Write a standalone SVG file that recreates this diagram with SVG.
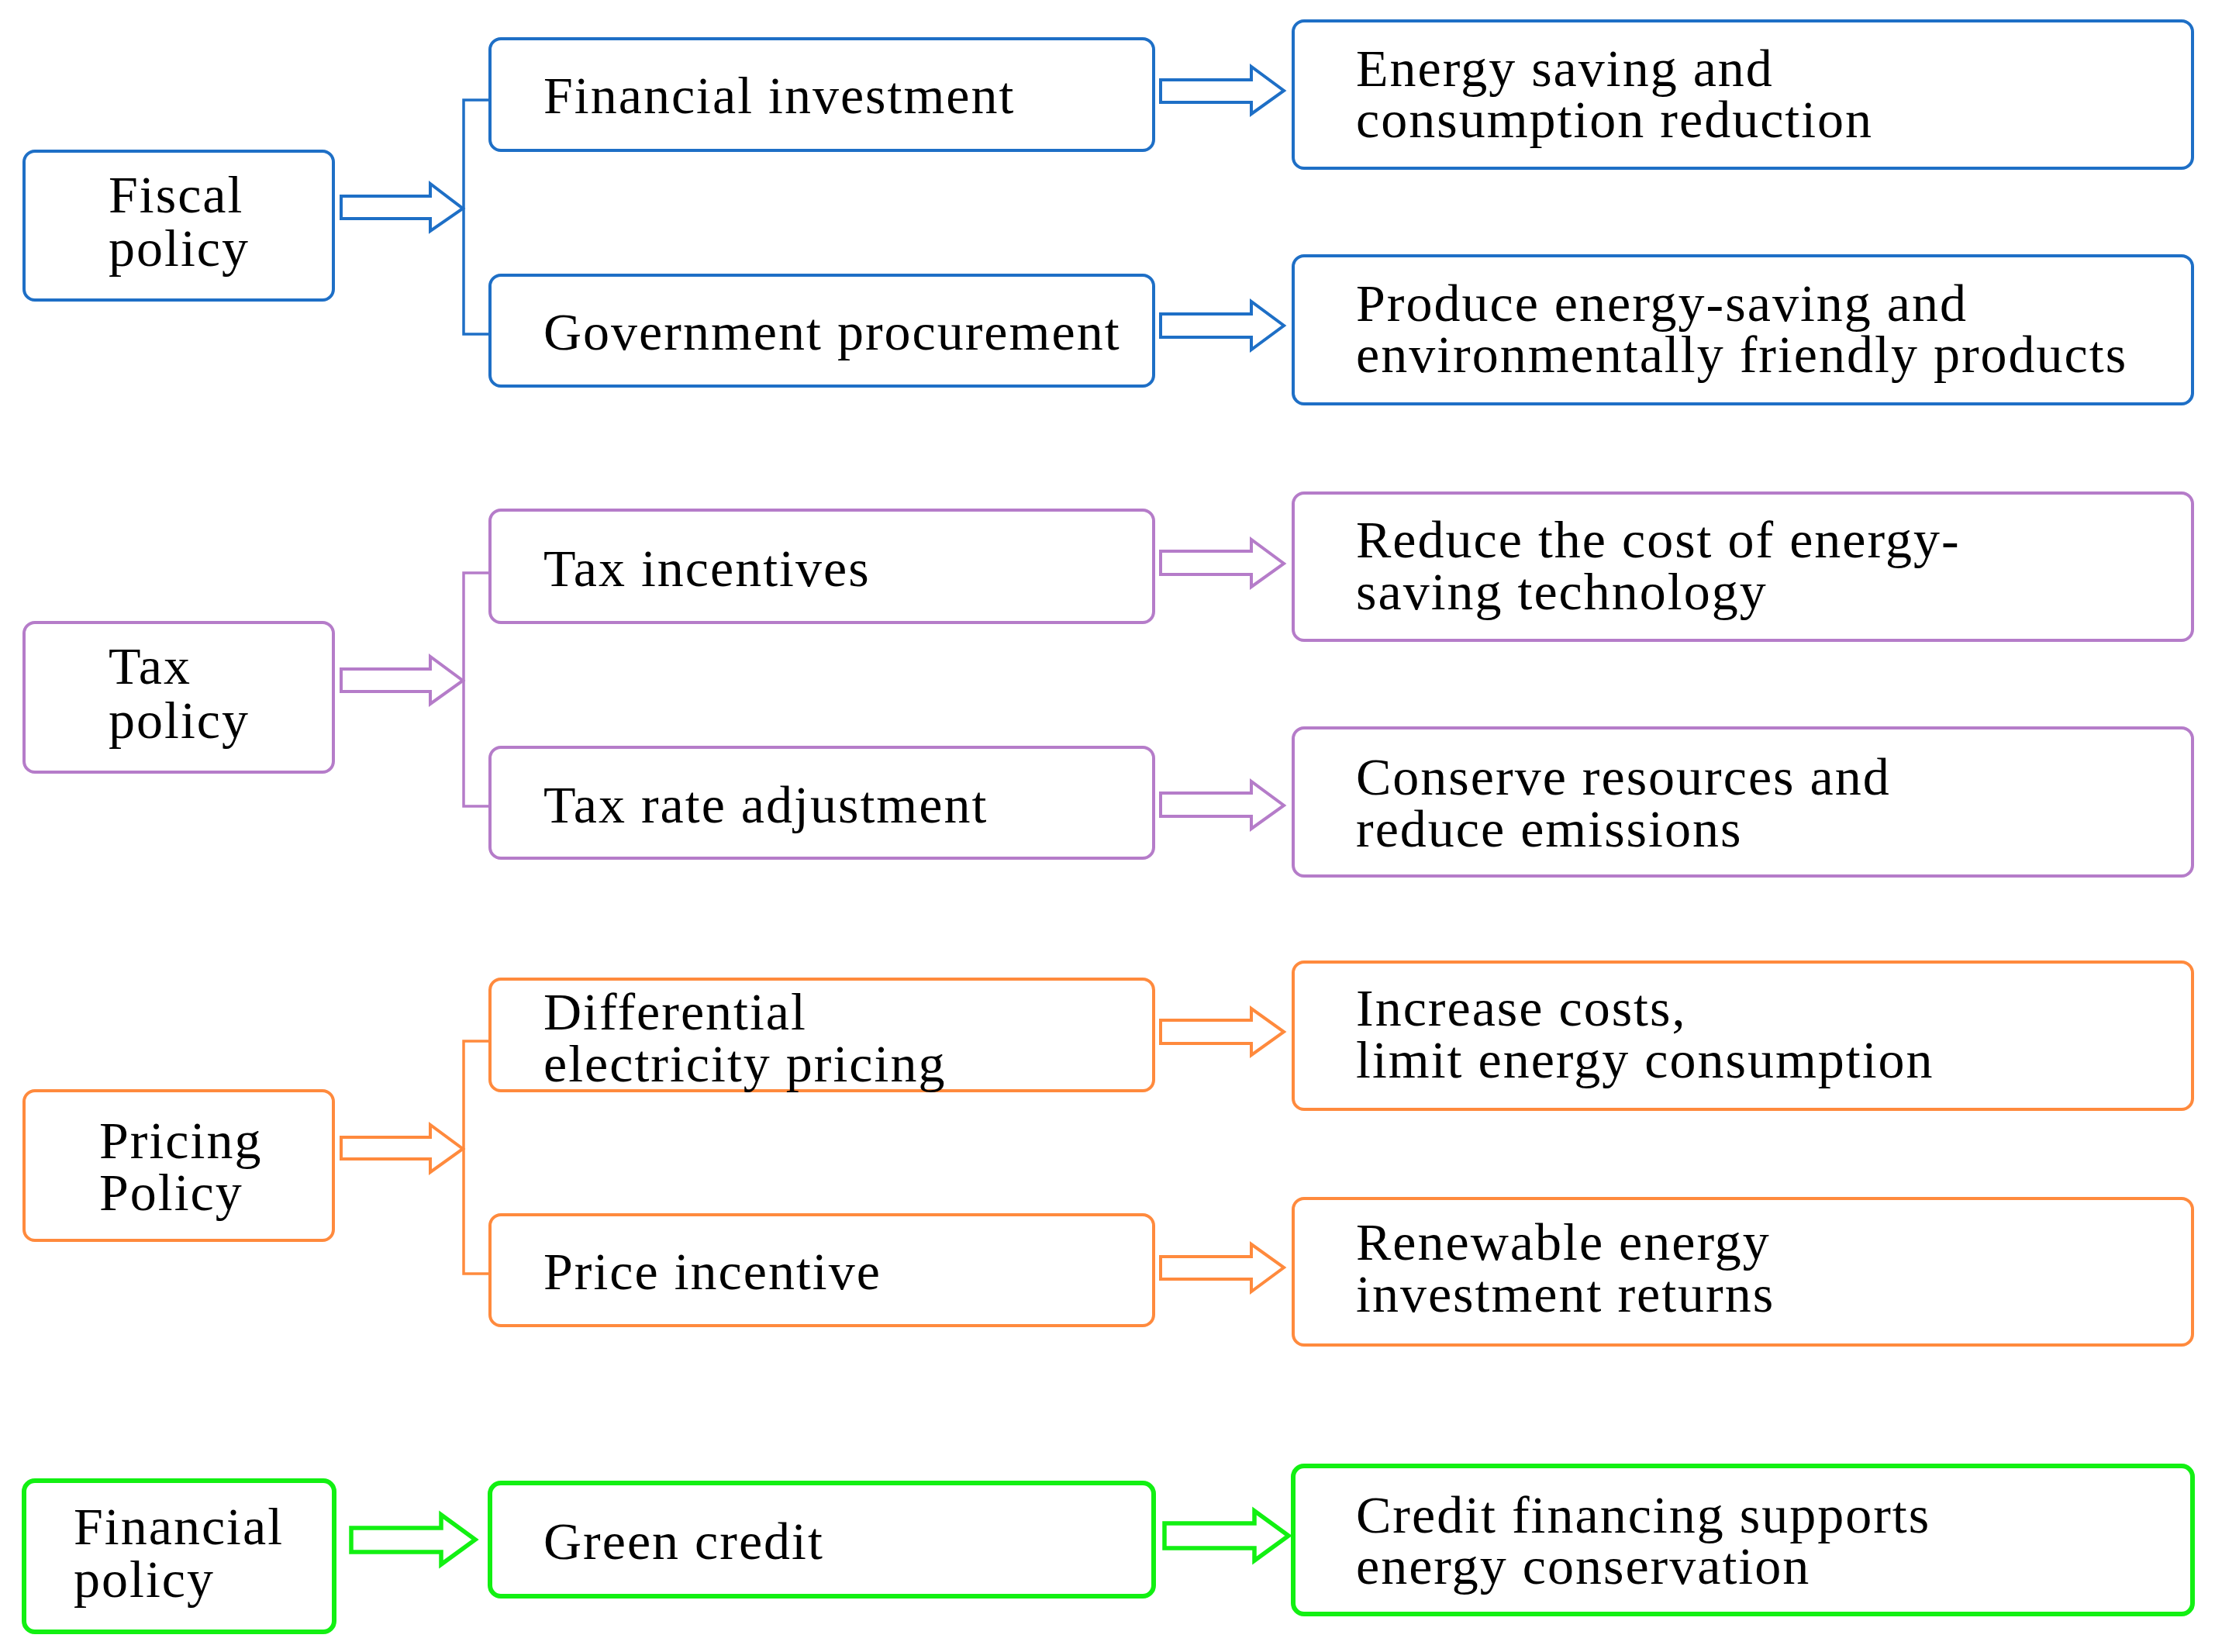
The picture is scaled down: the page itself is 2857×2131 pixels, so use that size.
<svg xmlns="http://www.w3.org/2000/svg" width="2857" height="2131" viewBox="0 0 2857 2131">
<style>
rect{fill:#fff;stroke-width:4}
.blue{stroke:#1E6FC6}
.purple{stroke:#B57CC9}
.orange{stroke:#FF8A3D}
.green{stroke:#12F012;stroke-width:6}
.arr{fill:#fff;stroke-width:4;stroke-linejoin:miter}
.arr.green{stroke-width:5.5}
.br{fill:none;stroke-width:3.5}
text{font-family:"Liberation Serif","Times New Roman",serif;font-size:68px;letter-spacing:2px;fill:#000}
</style>
<rect width="2857" height="2131" fill="#fff" stroke="none"/>
<g id="connectors">
<path class="br blue" d="M632 129H598V431H632"/>
<path class="arr blue" d="M440 253H555V237L597 269L555 298V282H440Z"/>
<path class="arr blue" d="M1497 103H1614V86L1656 117L1614 147V132H1497Z"/>
<path class="arr blue" d="M1497 405H1614V389L1656 420L1614 451V435H1497Z"/>
<path class="br purple" d="M632 739H598V1040H632"/>
<path class="arr purple" d="M440 863H555V847L597 878L555 908V892H440Z"/>
<path class="arr purple" d="M1497 711H1614V696L1656 727L1614 757V741H1497Z"/>
<path class="arr purple" d="M1497 1023H1614V1008L1656 1039L1614 1069V1053H1497Z"/>
<path class="br orange" d="M632 1343H598V1643H632"/>
<path class="arr orange" d="M440 1467H555V1451L597 1482L555 1512V1495H440Z"/>
<path class="arr orange" d="M1497 1316H1614V1301L1656 1331L1614 1361V1346H1497Z"/>
<path class="arr orange" d="M1497 1621H1614V1605L1656 1635L1614 1666V1650H1497Z"/>
<path class="arr green" d="M453 1971H569V1954L613 1986L569 2018V2002H453Z"/>
<path class="arr green" d="M1502 1965H1618V1949L1662 1981L1618 2013V1997H1502Z"/>
</g>
<g id="fiscal-policy"><rect class="blue" x="31" y="195" width="399" height="192" rx="14"/><text x="140" y="274">Fiscal</text><text x="140" y="343">policy</text></g>
<g id="financial-investment"><rect class="blue" x="632" y="50" width="856" height="144" rx="14"/><text x="701" y="146">Financial investment</text></g>
<g id="government-procurement"><rect class="blue" x="632" y="355" width="856" height="143" rx="14"/><text x="701" y="451">Government procurement</text></g>
<g id="energy-saving"><rect class="blue" x="1668" y="27" width="1160" height="190" rx="14"/><text x="1749" y="111">Energy saving and</text><text x="1749" y="177">consumption reduction</text></g>
<g id="produce-products"><rect class="blue" x="1668" y="330" width="1160" height="191" rx="14"/><text x="1749" y="414">Produce energy-saving and</text><text x="1749" y="480">environmentally friendly products</text></g>

<g id="tax-policy"><rect class="purple" x="31" y="803" width="399" height="193" rx="14"/><text x="140" y="882">Tax</text><text x="140" y="952">policy</text></g>
<g id="tax-incentives"><rect class="purple" x="632" y="658" width="856" height="145" rx="14"/><text x="701" y="756">Tax incentives</text></g>
<g id="tax-rate-adjustment"><rect class="purple" x="632" y="964" width="856" height="143" rx="14"/><text x="701" y="1061">Tax rate adjustment</text></g>
<g id="reduce-cost"><rect class="purple" x="1668" y="636" width="1160" height="190" rx="14"/><text x="1749" y="719">Reduce the cost of energy-</text><text x="1749" y="786">saving technology</text></g>
<g id="conserve-resources"><rect class="purple" x="1668" y="939" width="1160" height="191" rx="14"/><text x="1749" y="1025">Conserve resources and</text><text x="1749" y="1092">reduce emissions</text></g>

<g id="pricing-policy"><rect class="orange" x="31" y="1407" width="399" height="193" rx="14"/><text x="128" y="1494">Pricing</text><text x="128" y="1561">Policy</text></g>
<g id="differential-pricing"><rect class="orange" x="632" y="1263" width="856" height="144" rx="14"/><text x="701" y="1328">Differential</text><text x="701" y="1395">electricity pricing</text></g>
<g id="price-incentive"><rect class="orange" x="632" y="1567" width="856" height="143" rx="14"/><text x="701" y="1663">Price incentive</text></g>
<g id="increase-costs"><rect class="orange" x="1668" y="1241" width="1160" height="190" rx="14"/><text x="1749" y="1323">Increase costs,</text><text x="1749" y="1390">limit energy consumption</text></g>
<g id="renewable-energy"><rect class="orange" x="1668" y="1546" width="1160" height="189" rx="14"/><text x="1749" y="1625">Renewable energy</text><text x="1749" y="1692">investment returns</text></g>

<g id="financial-policy"><rect class="green" x="31" y="1910" width="400" height="195" rx="14"/><text x="95" y="1992">Financial</text><text x="95" y="2060">policy</text></g>
<g id="green-credit"><rect class="green" x="632" y="1913" width="856" height="146" rx="14"/><text x="701" y="2011">Green credit</text></g>
<g id="credit-financing"><rect class="green" x="1668" y="1891" width="1160" height="191" rx="14"/><text x="1749" y="1977">Credit financing supports</text><text x="1749" y="2043">energy conservation</text></g>
</svg>
